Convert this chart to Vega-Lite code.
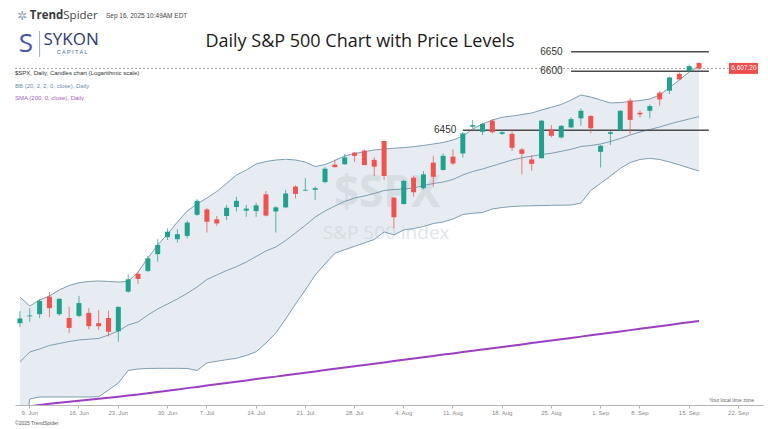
{
"$schema": "https://vega.github.io/schema/vega-lite/v6.json",
"width": 748, "height": 405,
"autosize": {"type": "none"},
"padding": {"left": 15, "top": 0, "right": 5, "bottom": 24},
"background": "white",
"config": {"view": {"stroke": null}, "font": "Liberation Sans", "text": {"font": "Liberation Sans"}},
"datasets": {"spx": [
{"date":"2025-06-06","open":5983,"high":6011,"low":5974,"close":5994,"bbUpper":6044.3,"bbMiddle":5893.2,"bbLower":5650.0,"sma200":5790.0},
{"date":"2025-06-09","open":5999,"high":6018,"low":5986,"close":6001,"bbUpper":6023.1,"bbMiddle":5916.2,"bbLower":5808.8,"sma200":5792.3},
{"date":"2025-06-10","open":6004,"high":6040,"low":5995,"close":6035,"bbUpper":6037.2,"bbMiddle":5923.1,"bbLower":5813.4,"sma200":5795.3},
{"date":"2025-06-11","open":6045,"high":6056,"low":5997,"close":6018,"bbUpper":6046.6,"bbMiddle":5931.2,"bbLower":5813.4,"sma200":5798.0},
{"date":"2025-06-12","open":6004,"high":6041,"low":6000,"close":6040,"bbUpper":6060.8,"bbMiddle":5935.8,"bbLower":5813.4,"sma200":5800.2},
{"date":"2025-06-13","open":5995,"high":6021,"low":5960,"close":5972,"bbUpper":6071.4,"bbMiddle":5940.4,"bbLower":5813.4,"sma200":5802.5},
{"date":"2025-06-16","open":6000,"high":6047,"low":5997,"close":6030,"bbUpper":6078.0,"bbMiddle":5943.9,"bbLower":5813.4,"sma200":5804.8},
{"date":"2025-06-17","open":6007,"high":6018,"low":5969,"close":5976,"bbUpper":6081.0,"bbMiddle":5945.7,"bbLower":5813.4,"sma200":5807.0},
{"date":"2025-06-18","open":5983,"high":6014,"low":5967,"close":5976,"bbUpper":6082.1,"bbMiddle":5947.4,"bbLower":5814.0,"sma200":5809.3},
{"date":"2025-06-20","open":5995,"high":6012,"low":5952,"close":5963,"bbUpper":6081.0,"bbMiddle":5955.5,"bbLower":5829.2,"sma200":5811.5},
{"date":"2025-06-23","open":5964,"high":6022,"low":5940,"close":6021,"bbUpper":6079.7,"bbMiddle":5964.8,"bbLower":5845.1,"sma200":5814.0},
{"date":"2025-06-24","open":6057,"high":6098,"low":6054,"close":6086,"bbUpper":6081.0,"bbMiddle":5978.7,"bbLower":5873.7,"sma200":5816.5},
{"date":"2025-06-25","open":6099,"high":6104,"low":6075,"close":6087,"bbUpper":6103.4,"bbMiddle":5985.7,"bbLower":5877.1,"sma200":5818.8},
{"date":"2025-06-26","open":6106,"high":6142,"low":6103,"close":6136,"bbUpper":6136.8,"bbMiddle":6002.0,"bbLower":5878.3,"sma200":5821.7},
{"date":"2025-06-27","open":6146,"high":6182,"low":6128,"close":6168,"bbUpper":6168.0,"bbMiddle":6016.1,"bbLower":5878.7,"sma200":5824.7},
{"date":"2025-06-30","open":6187,"high":6208,"low":6180,"close":6200,"bbUpper":6194.5,"bbMiddle":6027.8,"bbLower":5878.7,"sma200":5827.6},
{"date":"2025-07-01","open":6182,"high":6206,"low":6174,"close":6194,"bbUpper":6223.5,"bbMiddle":6039.6,"bbLower":5878.7,"sma200":5830.6},
{"date":"2025-07-02","open":6190,"high":6226,"low":6184,"close":6222,"bbUpper":6250.2,"bbMiddle":6053.0,"bbLower":5878.3,"sma200":5833.5},
{"date":"2025-07-03","open":6241,"high":6279,"low":6238,"close":6275,"bbUpper":6267.3,"bbMiddle":6067.9,"bbLower":5873.7,"sma200":5836.3},
{"date":"2025-07-07","open":6254,"high":6257,"low":6198,"close":6224,"bbUpper":6282.0,"bbMiddle":6085.6,"bbLower":5890.9,"sma200":5839.2},
{"date":"2025-07-08","open":6230,"high":6238,"low":6214,"close":6220,"bbUpper":6297.9,"bbMiddle":6096.3,"bbLower":5894.8,"sma200":5842.2},
{"date":"2025-07-09","open":6238,"high":6265,"low":6228,"close":6258,"bbUpper":6317.5,"bbMiddle":6107.0,"bbLower":5898.5,"sma200":5845.1},
{"date":"2025-07-10","open":6260,"high":6285,"low":6249,"close":6275,"bbUpper":6338.5,"bbMiddle":6116.0,"bbLower":5901.7,"sma200":5848.1},
{"date":"2025-07-11","open":6251,"high":6265,"low":6236,"close":6256,"bbUpper":6350.8,"bbMiddle":6127.2,"bbLower":5908.1,"sma200":5851.1},
{"date":"2025-07-14","open":6250,"high":6270,"low":6236,"close":6264,"bbUpper":6365.7,"bbMiddle":6140.4,"bbLower":5916.8,"sma200":5854.1},
{"date":"2025-07-15","open":6291,"high":6299,"low":6237,"close":6239,"bbUpper":6371.9,"bbMiddle":6153.6,"bbLower":5936.9,"sma200":5857.0},
{"date":"2025-07-16","open":6249,"high":6262,"low":6198,"close":6259,"bbUpper":6375.6,"bbMiddle":6163.2,"bbLower":5960.1,"sma200":5859.7},
{"date":"2025-07-17","open":6259,"high":6302,"low":6257,"close":6293,"bbUpper":6377.4,"bbMiddle":6178.8,"bbLower":5992.7,"sma200":5862.7},
{"date":"2025-07-18","open":6310,"high":6313,"low":6281,"close":6292,"bbUpper":6375.6,"bbMiddle":6196.9,"bbLower":6027.8,"sma200":5865.7},
{"date":"2025-07-21","open":6300,"high":6331,"low":6299,"close":6302,"bbUpper":6370.6,"bbMiddle":6215.5,"bbLower":6060.8,"sma200":5868.6},
{"date":"2025-07-22","open":6302,"high":6310,"low":6277,"close":6306,"bbUpper":6359.5,"bbMiddle":6235.4,"bbLower":6095.8,"sma200":5871.6},
{"date":"2025-07-23","open":6321,"high":6358,"low":6318,"close":6354,"bbUpper":6364.4,"bbMiddle":6250.2,"bbLower":6122.7,"sma200":5874.6},
{"date":"2025-07-24","open":6364,"high":6377,"low":6357,"close":6358,"bbUpper":6374.4,"bbMiddle":6262.4,"bbLower":6148.0,"sma200":5877.6},
{"date":"2025-07-25","open":6365,"high":6391,"low":6364,"close":6382,"bbUpper":6385.6,"bbMiddle":6273.4,"bbLower":6156.7,"sma200":5880.6},
{"date":"2025-07-28","open":6394,"high":6396,"low":6371,"close":6386,"bbUpper":6391.8,"bbMiddle":6282.0,"bbLower":6164.8,"sma200":5883.3},
{"date":"2025-07-29","open":6399,"high":6402,"low":6363,"close":6363,"bbUpper":6396.3,"bbMiddle":6286.8,"bbLower":6172.8,"sma200":5886.3},
{"date":"2025-07-30","open":6376,"high":6382,"low":6336,"close":6359,"bbUpper":6400.5,"bbMiddle":6292.9,"bbLower":6181.2,"sma200":5889.3},
{"date":"2025-07-31","open":6423,"high":6424,"low":6326,"close":6336,"bbUpper":6403.0,"bbMiddle":6300.3,"bbLower":6199.3,"sma200":5892.2},
{"date":"2025-08-01","open":6283,"high":6283,"low":6208,"close":6235,"bbUpper":6404.8,"bbMiddle":6302.8,"bbLower":6192.5,"sma200":5895.2},
{"date":"2025-08-04","open":6267,"high":6326,"low":6267,"close":6324,"bbUpper":6406.7,"bbMiddle":6304.0,"bbLower":6204.1,"sma200":5898.2},
{"date":"2025-08-05","open":6332,"high":6336,"low":6285,"close":6296,"bbUpper":6408.7,"bbMiddle":6306.5,"bbLower":6207.7,"sma200":5901.2},
{"date":"2025-08-06","open":6306,"high":6348,"low":6303,"close":6340,"bbUpper":6411.7,"bbMiddle":6312.6,"bbLower":6212.6,"sma200":5904.2},
{"date":"2025-08-07","open":6369,"high":6386,"low":6310,"close":6334,"bbUpper":6415.5,"bbMiddle":6317.5,"bbLower":6219.8,"sma200":5907.2},
{"date":"2025-08-08","open":6351,"high":6392,"low":6349,"close":6386,"bbUpper":6419.2,"bbMiddle":6321.2,"bbLower":6223.5,"sma200":5910.2},
{"date":"2025-08-11","open":6384,"high":6402,"low":6363,"close":6367,"bbUpper":6425.5,"bbMiddle":6327.4,"bbLower":6230.8,"sma200":5912.9},
{"date":"2025-08-12","open":6392,"high":6446,"low":6382,"close":6442,"bbUpper":6435.5,"bbMiddle":6338.5,"bbLower":6241.7,"sma200":5915.9},
{"date":"2025-08-13","open":6459,"high":6476,"low":6455,"close":6463,"bbUpper":6453.1,"bbMiddle":6347.1,"bbLower":6244.6,"sma200":5918.9},
{"date":"2025-08-14","open":6446,"high":6469,"low":6438,"close":6466,"bbUpper":6465.7,"bbMiddle":6353.3,"bbLower":6246.6,"sma200":5921.9},
{"date":"2025-08-15","open":6474,"high":6478,"low":6442,"close":6445,"bbUpper":6475.7,"bbMiddle":6360.7,"bbLower":6255.1,"sma200":5924.7},
{"date":"2025-08-18","open":6441,"high":6451,"low":6438,"close":6445,"bbUpper":6482.6,"bbMiddle":6368.2,"bbLower":6258.7,"sma200":5927.7},
{"date":"2025-08-19","open":6441,"high":6451,"low":6398,"close":6406,"bbUpper":6485.8,"bbMiddle":6375.6,"bbLower":6261.2,"sma200":5930.7},
{"date":"2025-08-20","open":6402,"high":6405,"low":6340,"close":6391,"bbUpper":6489.6,"bbMiddle":6381.1,"bbLower":6262.4,"sma200":5933.7},
{"date":"2025-08-21","open":6377,"high":6388,"low":6349,"close":6366,"bbUpper":6493.4,"bbMiddle":6385.1,"bbLower":6262.9,"sma200":5936.7},
{"date":"2025-08-22","open":6380,"high":6476,"low":6380,"close":6474,"bbUpper":6501.0,"bbMiddle":6389.3,"bbLower":6263.6,"sma200":5939.7},
{"date":"2025-08-25","open":6452,"high":6463,"low":6432,"close":6436,"bbUpper":6507.9,"bbMiddle":6392.3,"bbLower":6264.1,"sma200":5942.7},
{"date":"2025-08-26","open":6432,"high":6463,"low":6429,"close":6461,"bbUpper":6515.0,"bbMiddle":6397.3,"bbLower":6264.3,"sma200":5945.7},
{"date":"2025-08-27","open":6457,"high":6483,"low":6455,"close":6478,"bbUpper":6526.4,"bbMiddle":6402.3,"bbLower":6264.8,"sma200":5948.7},
{"date":"2025-08-28","open":6480,"high":6505,"low":6461,"close":6499,"bbUpper":6539.1,"bbMiddle":6409.2,"bbLower":6269.6,"sma200":5951.7},
{"date":"2025-08-29","open":6486,"high":6488,"low":6442,"close":6455,"bbUpper":6534.0,"bbMiddle":6411.7,"bbLower":6300.3,"sma200":5954.8},
{"date":"2025-09-02","open":6396,"high":6413,"low":6357,"close":6411,"bbUpper":6526.4,"bbMiddle":6415.5,"bbLower":6318.0,"sma200":5957.8},
{"date":"2025-09-03","open":6441,"high":6448,"low":6413,"close":6445,"bbUpper":6518.8,"bbMiddle":6421.7,"bbLower":6336.0,"sma200":5960.8},
{"date":"2025-09-04","open":6451,"high":6500,"low":6448,"close":6499,"bbUpper":6520.0,"bbMiddle":6429.3,"bbLower":6354.6,"sma200":5963.8},
{"date":"2025-09-05","open":6525,"high":6531,"low":6440,"close":6476,"bbUpper":6522.6,"bbMiddle":6438.0,"bbLower":6369.4,"sma200":5966.8},
{"date":"2025-09-08","open":6494,"high":6500,"low":6482,"close":6490,"bbUpper":6525.1,"bbMiddle":6445.5,"bbLower":6376.9,"sma200":5969.9},
{"date":"2025-09-09","open":6499,"high":6515,"low":6480,"close":6511,"bbUpper":6528.9,"bbMiddle":6451.8,"bbLower":6379.8,"sma200":5972.9},
{"date":"2025-09-10","open":6545,"high":6549,"low":6512,"close":6528,"bbUpper":6539.1,"bbMiddle":6458.1,"bbLower":6376.9,"sma200":5975.9},
{"date":"2025-09-11","open":6550,"high":6586,"low":6542,"close":6584,"bbUpper":6558.2,"bbMiddle":6465.7,"bbLower":6370.6,"sma200":5978.9},
{"date":"2025-09-12","open":6593,"high":6597,"low":6578,"close":6579,"bbUpper":6577.4,"bbMiddle":6472.0,"bbLower":6363.7,"sma200":5982.0},
{"date":"2025-09-15","open":6600,"high":6617,"low":6599,"close":6613,"bbUpper":6598.0,"bbMiddle":6478.3,"bbLower":6355.8,"sma200":5985.0},
{"date":"2025-09-16","open":6621,"high":6623,"low":6603,"close":6607.2,"bbUpper":6613.4,"bbMiddle":6484.2,"bbLower":6348.3,"sma200":5988.0}
]},
"data": {"name": "spx"},
"layer": [
  {"mark": {"type": "area", "color": "#e6ecf1", "clip": true},
   "encoding": {
     "x": {"field": "date", "type": "ordinal",
       "scale": {"type": "band", "paddingInner": 0, "paddingOuter": 0, "domain": ["2025-06-06","2025-06-09","2025-06-10","2025-06-11","2025-06-12","2025-06-13","2025-06-16","2025-06-17","2025-06-18","2025-06-20","2025-06-23","2025-06-24","2025-06-25","2025-06-26","2025-06-27","2025-06-30","2025-07-01","2025-07-02","2025-07-03","2025-07-07","2025-07-08","2025-07-09","2025-07-10","2025-07-11","2025-07-14","2025-07-15","2025-07-16","2025-07-17","2025-07-18","2025-07-21","2025-07-22","2025-07-23","2025-07-24","2025-07-25","2025-07-28","2025-07-29","2025-07-30","2025-07-31","2025-08-01","2025-08-04","2025-08-05","2025-08-06","2025-08-07","2025-08-08","2025-08-11","2025-08-12","2025-08-13","2025-08-14","2025-08-15","2025-08-18","2025-08-19","2025-08-20","2025-08-21","2025-08-22","2025-08-25","2025-08-26","2025-08-27","2025-08-28","2025-08-29","2025-09-02","2025-09-03","2025-09-04","2025-09-05","2025-09-08","2025-09-09","2025-09-10","2025-09-11","2025-09-12","2025-09-15","2025-09-16","2025-09-17","2025-09-18","2025-09-19","2025-09-22","2025-09-23","2025-09-24"]},
       "axis": {"orient": "bottom", "title": null, "grid": false, "labelAngle": 0,
         "values": ["2025-06-09","2025-06-16","2025-06-23","2025-06-30","2025-07-07","2025-07-14","2025-07-21","2025-07-28","2025-08-04","2025-08-11","2025-08-18","2025-08-25","2025-09-02","2025-09-08","2025-09-15","2025-09-22"],
         "labelExpr": "datum.value == '2025-09-02' ? '1. Sep' : utcFormat(toDate(datum.value), '%-d. %b')",
         "labelFontSize": 6, "labelColor": "#8a8a8a", "labelFont": "Liberation Sans", "labelPadding": 1,
         "domain": true, "ticks": true, "domainColor": "#b5b5b5", "tickColor": "#b5b5b5", "tickSize": 3}},
     "y": {"field": "bbUpper", "type": "quantitative", "scale": {"type": "log", "domain": [5795.27, 6785.65], "nice": false, "zero": false},
       "axis": {"orient": "right", "offset": -31, "title": null, "grid": false, "domain": false, "ticks": false, "tickSize": 0, "labelPadding": 0,
         "values": [6670.32, 6534.89, 6468.21, 6402.20, 6336.88, 6272.21, 6208.21, 6144.86, 6082.16, 6020.10, 5958.67, 5897.87, 5837.68],
         "format": ",.2f", "labelFontSize": 6, "labelColor": "#8a8a8a", "labelFont": "Liberation Sans", "labelAlign": "left", "labelBaseline": "middle"}},
     "y2": {"field": "bbLower"}}},
  {"data": {"values": [{}]},
   "mark": {"type": "text", "text": "$SPX", "fontSize": 44, "fontWeight": "bold", "font": "Open Sans", "color": "#cdd5dc", "opacity": 0.6, "dx": 3},
   "encoding": {"x": {"datum": "2025-07-31", "type": "ordinal"},
     "y": {"datum": 6291.7, "type": "quantitative", "scale": {"type": "log", "domain": [5795.27, 6785.65], "nice": false, "zero": false}, "axis": null}}},
  {"data": {"values": [{}]},
   "mark": {"type": "text", "text": "S&P 500 index", "fontSize": 19, "font": "Open Sans", "color": "#cdd5dc", "opacity": 0.6, "dx": 2},
   "encoding": {"x": {"datum": "2025-07-31", "type": "ordinal"},
     "y": {"datum": 6197.0, "type": "quantitative", "scale": {"type": "log", "domain": [5795.27, 6785.65], "nice": false, "zero": false}, "axis": null}}},
  {"mark": {"type": "line", "color": "#9b3fc2", "strokeWidth": 2, "clip": true},
   "encoding": {"x": {"field": "date", "type": "ordinal"},
     "y": {"field": "sma200", "type": "quantitative", "scale": {"type": "log", "domain": [5795.27, 6785.65], "nice": false, "zero": false}, "axis": null}}},
  {"mark": {"type": "line", "color": "#7f9db2", "strokeWidth": 1, "clip": true},
   "encoding": {"x": {"field": "date", "type": "ordinal"},
     "y": {"field": "bbUpper", "type": "quantitative", "scale": {"type": "log", "domain": [5795.27, 6785.65], "nice": false, "zero": false}, "axis": null}}},
  {"mark": {"type": "line", "color": "#7f9db2", "strokeWidth": 1, "clip": true},
   "encoding": {"x": {"field": "date", "type": "ordinal"},
     "y": {"field": "bbMiddle", "type": "quantitative", "scale": {"type": "log", "domain": [5795.27, 6785.65], "nice": false, "zero": false}, "axis": null}}},
  {"mark": {"type": "line", "color": "#7f9db2", "strokeWidth": 1, "clip": true},
   "encoding": {"x": {"field": "date", "type": "ordinal"},
     "y": {"field": "bbLower", "type": "quantitative", "scale": {"type": "log", "domain": [5795.27, 6785.65], "nice": false, "zero": false}, "axis": null}}},
  {"data": {"values": [{}]},
   "mark": {"type": "rule", "color": "#4d4d4d", "strokeWidth": 1.5},
   "encoding": {"x": {"datum": "2025-08-27", "type": "ordinal"}, "x2": {"datum": "2025-09-17"},
     "y": {"datum": 6650, "type": "quantitative", "scale": {"type": "log", "domain": [5795.27, 6785.65], "nice": false, "zero": false}, "axis": null}}},
  {"data": {"values": [{}]},
   "mark": {"type": "rule", "color": "#4d4d4d", "strokeWidth": 1.5},
   "encoding": {"x": {"datum": "2025-08-27", "type": "ordinal"}, "x2": {"datum": "2025-09-17"},
     "y": {"datum": 6600, "type": "quantitative", "scale": {"type": "log", "domain": [5795.27, 6785.65], "nice": false, "zero": false}, "axis": null}}},
  {"data": {"values": [{}]},
   "mark": {"type": "rule", "color": "#4d4d4d", "strokeWidth": 1.5},
   "encoding": {"x": {"datum": "2025-08-12", "type": "ordinal"}, "x2": {"datum": "2025-09-17"},
     "y": {"datum": 6450, "type": "quantitative", "scale": {"type": "log", "domain": [5795.27, 6785.65], "nice": false, "zero": false}, "axis": null}}},
  {"data": {"values": [{}]},
   "mark": {"type": "rule", "color": "#a0a0a0", "strokeWidth": 1, "strokeDash": [2, 2]},
   "encoding": {"x": {"datum": "2025-06-06", "type": "ordinal", "bandPosition": 0}, "x2": {"datum": "2025-09-19"},
     "y": {"datum": 6607.2, "type": "quantitative", "scale": {"type": "log", "domain": [5795.27, 6785.65], "nice": false, "zero": false}, "axis": null}}},
  {"mark": {"type": "rule", "strokeWidth": 1, "opacity": 0.75},
   "encoding": {"x": {"field": "date", "type": "ordinal"},
     "y": {"field": "low", "type": "quantitative", "scale": {"type": "log", "domain": [5795.27, 6785.65], "nice": false, "zero": false}, "axis": null},
     "y2": {"field": "high"},
     "color": {"condition": {"test": "datum.close >= datum.open", "value": "#22a08e"}, "value": "#ef5350"}}},
  {"mark": {"type": "bar", "width": 5},
   "encoding": {"x": {"field": "date", "type": "ordinal"},
     "y": {"field": "open", "type": "quantitative", "scale": {"type": "log", "domain": [5795.27, 6785.65], "nice": false, "zero": false}, "axis": null},
     "y2": {"field": "close"},
     "color": {"condition": {"test": "datum.close >= datum.open", "value": "#22a08e"}, "value": "#ef5350"}}},
  {"data": {"values": [{}]},
   "mark": {"type": "text", "text": "6650", "fontSize": 10, "color": "#333333"},
   "encoding": {"x": {"datum": "2025-08-25", "type": "ordinal"},
     "y": {"datum": 6650, "type": "quantitative", "scale": {"type": "log", "domain": [5795.27, 6785.65], "nice": false, "zero": false}, "axis": null}}},
  {"data": {"values": [{}]},
   "mark": {"type": "text", "text": "6600", "fontSize": 10, "color": "#333333"},
   "encoding": {"x": {"datum": "2025-08-25", "type": "ordinal"},
     "y": {"datum": 6600, "type": "quantitative", "scale": {"type": "log", "domain": [5795.27, 6785.65], "nice": false, "zero": false}, "axis": null}}},
  {"data": {"values": [{}]},
   "mark": {"type": "text", "text": "6450", "fontSize": 10, "color": "#333333", "dx": 2},
   "encoding": {"x": {"datum": "2025-08-08", "type": "ordinal"},
     "y": {"datum": 6450, "type": "quantitative", "scale": {"type": "log", "domain": [5795.27, 6785.65], "nice": false, "zero": false}, "axis": null}}},
  {"data": {"values": [{}]},
   "mark": {"type": "point", "shape": "M-0.65,-0.38H1.35V0.38H-0.65Z", "size": 841, "filled": true, "color": "#ee4d4d", "opacity": 1, "strokeWidth": 0},
   "encoding": {"x": {"datum": "2025-09-22", "type": "ordinal"},
     "y": {"datum": 6607.2, "type": "quantitative", "scale": {"type": "log", "domain": [5795.27, 6785.65], "nice": false, "zero": false}, "axis": null}}},
  {"data": {"values": [{}]},
   "mark": {"type": "text", "text": "6,607.20", "fontSize": 6.5, "color": "white", "dx": 5.5},
   "encoding": {"x": {"datum": "2025-09-22", "type": "ordinal"},
     "y": {"datum": 6607.2, "type": "quantitative", "scale": {"type": "log", "domain": [5795.27, 6785.65], "nice": false, "zero": false}, "axis": null}}},
  {"data": {"values": [{}]},
   "mark": {"type": "text", "text": "✲", "fontSize": 12, "font": "DejaVu Sans", "color": "#8fa3b8", "dx": 2},
   "encoding": {"x": {"datum": "2025-06-06", "type": "ordinal"},
     "y": {"datum": 6743.47, "type": "quantitative", "scale": {"type": "log", "domain": [5795.27, 6785.65], "nice": false, "zero": false}, "axis": null}}},
  {"data": {"values": [{}]},
   "mark": {"type": "text", "text": "Trend", "fontSize": 11.5, "fontWeight": "bold", "font": "Open Sans", "color": "#3a3a3a", "align": "left"},
   "encoding": {"x": {"datum": "2025-06-09", "type": "ordinal"},
     "y": {"datum": 6743.47, "type": "quantitative", "scale": {"type": "log", "domain": [5795.27, 6785.65], "nice": false, "zero": false}, "axis": null}}},
  {"data": {"values": [{}]},
   "mark": {"type": "text", "text": "Spider", "fontSize": 11.5, "font": "Open Sans", "color": "#444444", "align": "left", "dx": 4},
   "encoding": {"x": {"datum": "2025-06-12", "type": "ordinal"},
     "y": {"datum": 6743.47, "type": "quantitative", "scale": {"type": "log", "domain": [5795.27, 6785.65], "nice": false, "zero": false}, "axis": null}}},
  {"data": {"values": [{}]},
   "mark": {"type": "text", "text": "Sep 16, 2025 10:49AM EDT", "fontSize": 6.5, "color": "#444444", "align": "left", "dx": -2.5},
   "encoding": {"x": {"datum": "2025-06-20", "type": "ordinal"},
     "y": {"datum": 6743.47, "type": "quantitative", "scale": {"type": "log", "domain": [5795.27, 6785.65], "nice": false, "zero": false}, "axis": null}}},
  {"data": {"values": [{}]},
   "mark": {"type": "text", "text": "S", "fontSize": 26, "font": "Open Sans", "color": "#4655a5", "dx": 6},
   "encoding": {"x": {"datum": "2025-06-06", "type": "ordinal"},
     "y": {"datum": 6670.32, "type": "quantitative", "scale": {"type": "log", "domain": [5795.27, 6785.65], "nice": false, "zero": false}, "axis": null}}},
  {"data": {"values": [{}]},
   "mark": {"type": "rule", "color": "#9fb0bf", "strokeWidth": 1},
   "encoding": {"x": {"datum": "2025-06-10", "type": "ordinal"},
     "y": {"datum": 6704.2, "type": "quantitative", "scale": {"type": "log", "domain": [5795.27, 6785.65], "nice": false, "zero": false}, "axis": null},
     "y2": {"datum": 6636.9}}},
  {"data": {"values": [{}]},
   "mark": {"type": "text", "text": "SYKON", "fontSize": 17, "font": "Open Sans", "color": "#2f3b70", "dx": 2},
   "encoding": {"x": {"datum": "2025-06-13", "type": "ordinal"},
     "y": {"datum": 6680.72, "type": "quantitative", "scale": {"type": "log", "domain": [5795.27, 6785.65], "nice": false, "zero": false}, "axis": null}}},
  {"data": {"values": [{}]},
   "mark": {"type": "text", "text": "C  A  P  I  T  A  L", "fontSize": 5.5, "color": "#45708a", "dx": 3},
   "encoding": {"x": {"datum": "2025-06-13", "type": "ordinal"},
     "y": {"datum": 6649.56, "type": "quantitative", "scale": {"type": "log", "domain": [5795.27, 6785.65], "nice": false, "zero": false}, "axis": null}}},
  {"data": {"values": [{}]},
   "mark": {"type": "text", "text": "Daily S&P 500 Chart with Price Levels", "fontSize": 18, "font": "Open Sans", "color": "#1a1a1a", "dx": 5.5},
   "encoding": {"x": {"datum": "2025-07-28", "type": "ordinal"},
     "y": {"datum": 6675.52, "type": "quantitative", "scale": {"type": "log", "domain": [5795.27, 6785.65], "nice": false, "zero": false}, "axis": null}}},
  {"data": {"values": [{}]},
   "mark": {"type": "text", "text": "$SPX, Daily, Candles chart (Logarithmic scale)", "fontSize": 6, "color": "#333333", "align": "left"},
   "encoding": {"x": {"datum": "2025-06-06", "type": "ordinal", "bandPosition": 0},
     "y": {"datum": 6595.39, "type": "quantitative", "scale": {"type": "log", "domain": [5795.27, 6785.65], "nice": false, "zero": false}, "axis": null}}},
  {"data": {"values": [{}]},
   "mark": {"type": "text", "text": "BB (20, 2, 2, 0, close), Daily", "fontSize": 6, "color": "#6b8cae", "align": "left"},
   "encoding": {"x": {"datum": "2025-06-06", "type": "ordinal", "bandPosition": 0},
     "y": {"datum": 6562.08, "type": "quantitative", "scale": {"type": "log", "domain": [5795.27, 6785.65], "nice": false, "zero": false}, "axis": null}}},
  {"data": {"values": [{}]},
   "mark": {"type": "text", "text": "SMA (200, 0, close), Daily", "fontSize": 6, "color": "#a25bc4", "align": "left"},
   "encoding": {"x": {"datum": "2025-06-06", "type": "ordinal", "bandPosition": 0},
     "y": {"datum": 6531.47, "type": "quantitative", "scale": {"type": "log", "domain": [5795.27, 6785.65], "nice": false, "zero": false}, "axis": null}}},
  {"data": {"values": [{}]},
   "mark": {"type": "text", "text": "Your local time zone", "fontSize": 5, "color": "#666666", "dx": 3},
   "encoding": {"x": {"datum": "2025-09-19", "type": "ordinal"},
     "y": {"datum": 5806.5, "type": "quantitative", "scale": {"type": "log", "domain": [5795.27, 6785.65], "nice": false, "zero": false}, "axis": null}}},
  {"data": {"values": [{}]},
   "mark": {"type": "text", "text": "©2025 TrendSpider", "fontSize": 5, "color": "#555555", "align": "left"},
   "encoding": {"x": {"datum": "2025-06-06", "type": "ordinal", "bandPosition": 0},
     "y": {"datum": 5754.8, "type": "quantitative", "scale": {"type": "log", "domain": [5795.27, 6785.65], "nice": false, "zero": false}, "axis": null}}}
]
}
